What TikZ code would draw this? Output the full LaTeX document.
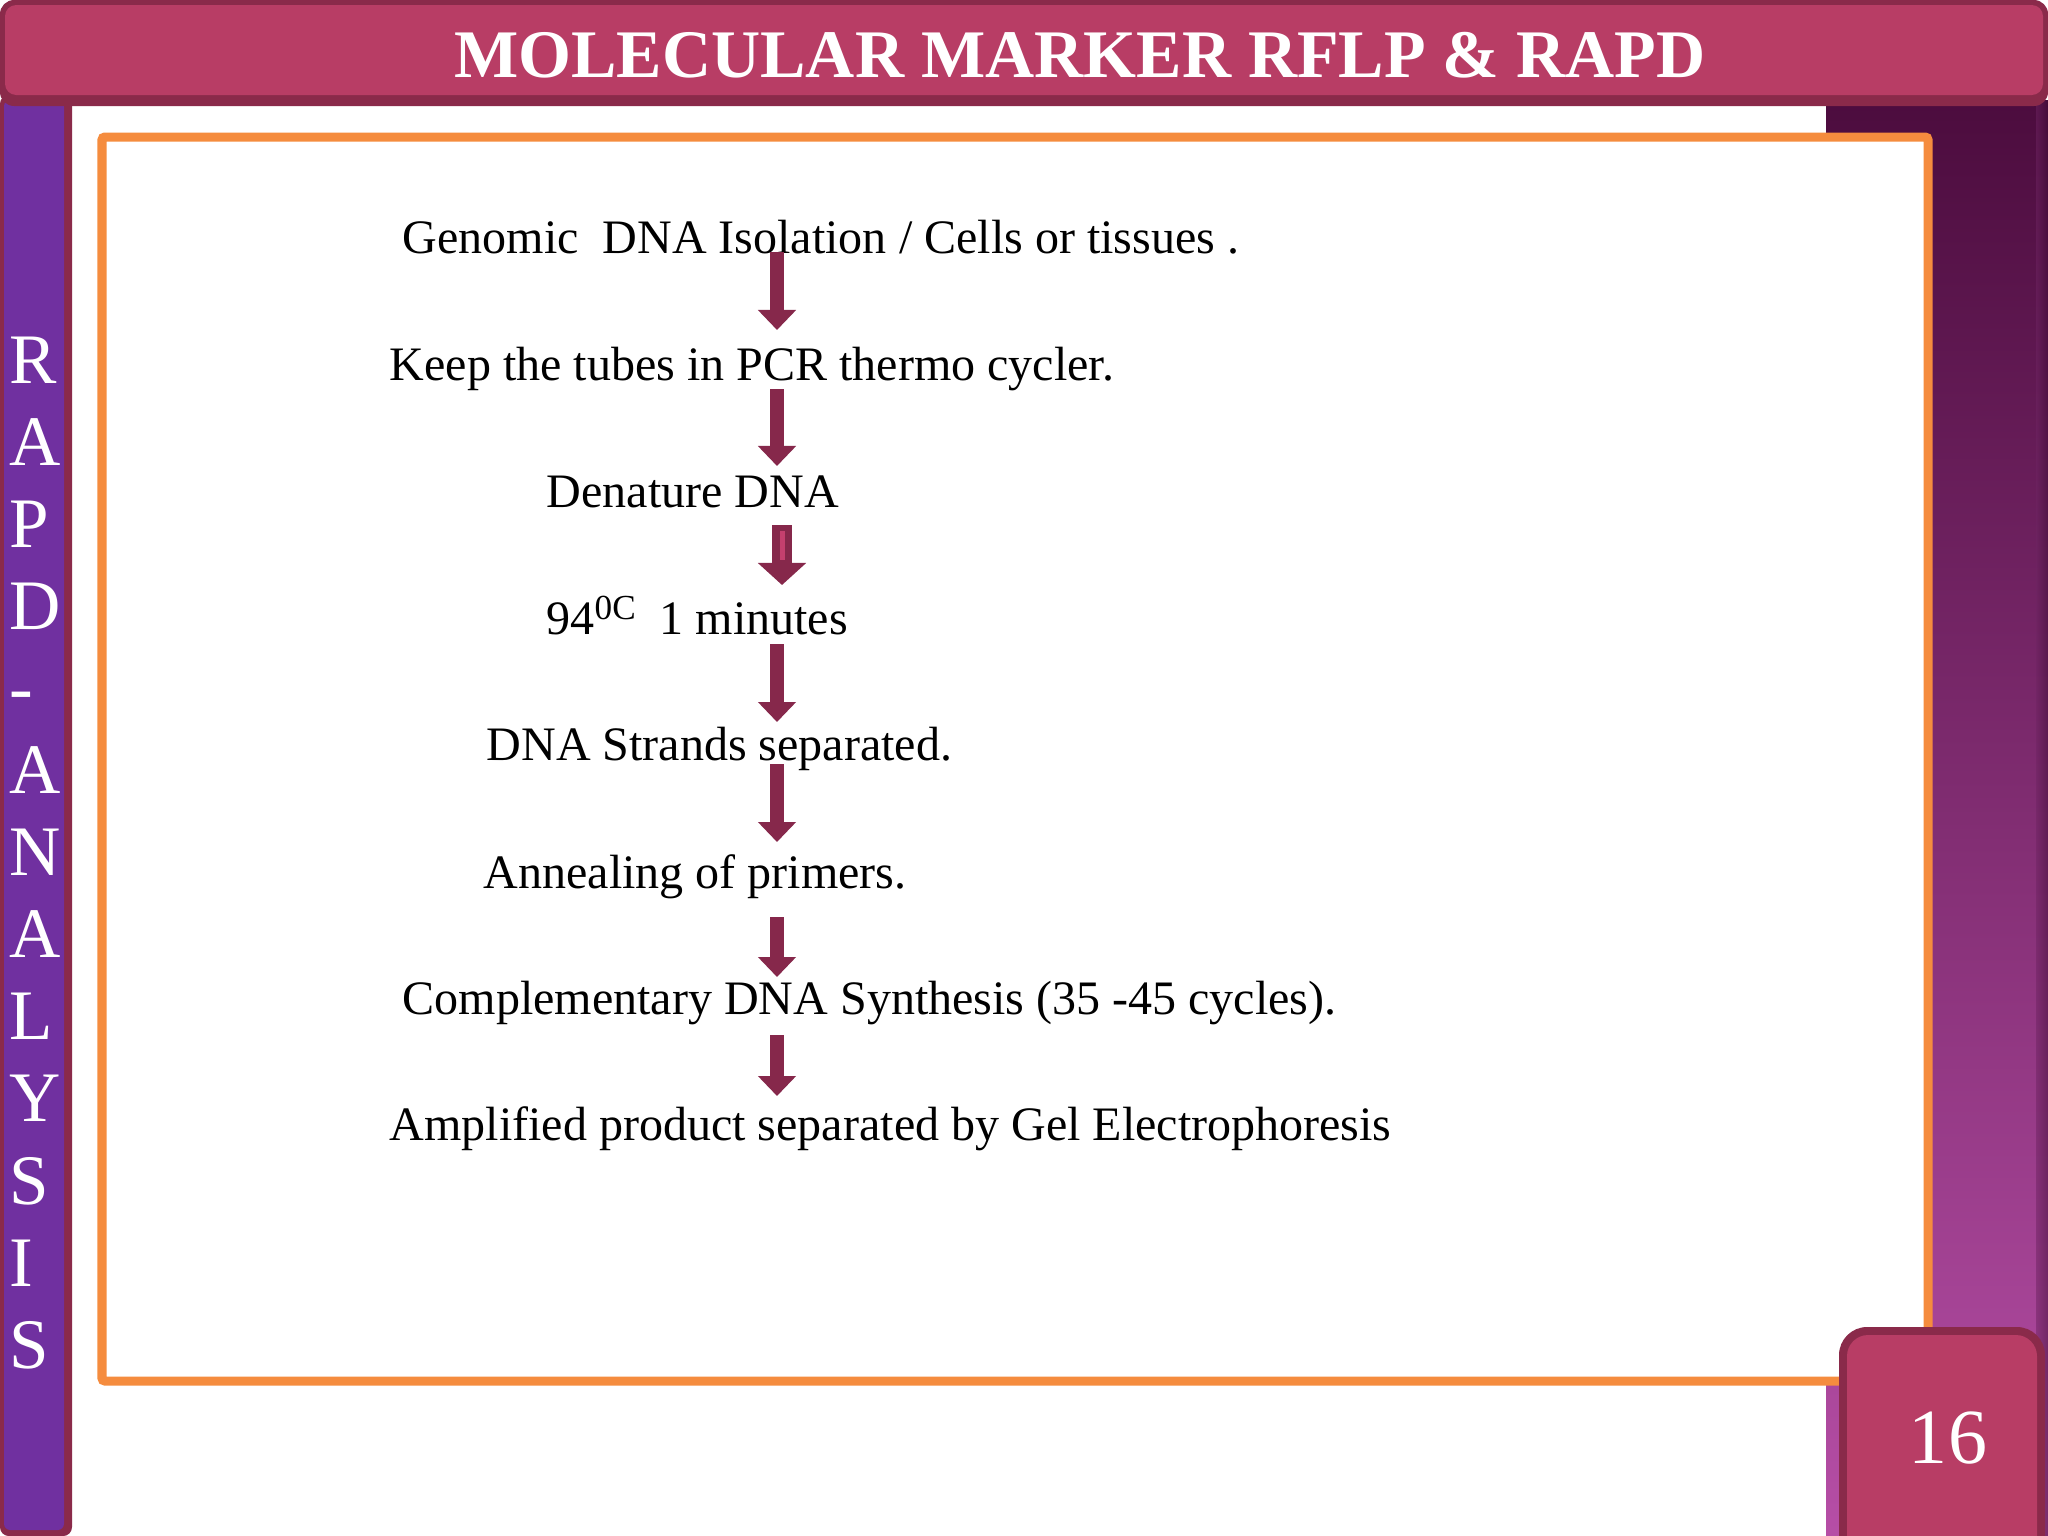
\documentclass[tikz,border=0pt]{standalone}
\usepackage{fontspec}
\setmainfont{Liberation Serif}
\usetikzlibrary{arrows.meta}
\definecolor{titlepink}{RGB}{184,61,101}
\definecolor{maroonb}{RGB}{138,42,74}
\definecolor{barpurple}{RGB}{112,48,160}
\definecolor{frameorange}{RGB}{245,140,62}
\definecolor{arrowred}{RGB}{134,40,75}
\definecolor{arrowhi}{RGB}{196,64,110}
\definecolor{panTop}{RGB}{76,12,62}
\definecolor{panMid}{RGB}{110,36,98}
\definecolor{panBot}{RGB}{182,78,166}
\definecolor{panEdge}{RGB}{62,12,52}
\begin{document}
\begin{tikzpicture}[x=0.01cm,y=-0.01cm,
  steptext/.style={anchor=base west, inner sep=0pt, font=\fontsize{13.66}{16}\selectfont, text=black},
  sideletter/.style={anchor=base west, inner sep=0pt, font=\fontsize{20.2}{24}\selectfont, text=white},
  flowarrow/.style={draw=arrowred, line width=0.14cm, -{Triangle[width=0.37cm,length=0.2cm]}},
  bigarrow/.style={draw=arrowred, line width=0.2cm, -{Triangle[width=0.47cm,length=0.22cm]}},
  hiline/.style={draw=arrowhi, line width=0.05cm}
]
\useasboundingbox (0,0) rectangle (2048,1536);
\fill[white] (0,0) rectangle (2048,1536);
% right purple panel
\shade[top color=panTop, middle color=panMid, bottom color=panBot] (1826,100) rectangle (2048,1536);
\shade[left color=panMid, right color=panEdge, opacity=0.5] (2036,100) rectangle (2048,1536);
% left bar
\fill[maroonb, rounded corners=2.5pt] (0,95) rectangle (72,1536);
\fill[barpurple, rounded corners=1.8pt] (4,100) rectangle (64,1530);
% title bar
\fill[maroonb, rounded corners=4pt] (0,0) rectangle (2048,106);
\fill[titlepink, rounded corners=3.2pt] (5,5) rectangle (2043,95);
% orange frame
\draw[frameorange, fill=white, line width=0.09cm, rounded corners=0.8pt] (102,137) rectangle (1928,1381);
% page box
\fill[maroonb, rounded corners=8pt] (1839,1327) rectangle (2045,1580);
\fill[titlepink, rounded corners=6pt] (1847,1335) rectangle (2037,1572);
% title
\node[anchor=base, inner sep=0pt, font=\bfseries\fontsize{19.35}{22}\selectfont, text=white] (title) at (1080,77) {MOLECULAR MARKER RFLP \& RAPD};
% page number
\node[anchor=base, inner sep=0pt, font=\fontsize{22.2}{26}\selectfont, text=white] (pagenum) at (1948,1463) {16};
% side letters
\foreach \l [count=\i from 0] in {R,A,P,D,-,A,N,A,L,Y,S,I,S}
  \node[sideletter] (side\i) at (9,383+82.1*\i) {\l};
% steps
\node[steptext] (t1) at (402,253) {Genomic\ \ DNA Isolation / Cells or tissues .};
\node[steptext] (t2) at (389,380) {Keep the tubes in PCR thermo cycler.};
\node[steptext] (t3) at (546,507) {Denature DNA};
\node[steptext] (t4) at (546,634) {94{\fontsize{10}{12}\selectfont\raisebox{0.9ex}{0C}}\ \ 1 minutes};
\node[steptext] (t5) at (486,760) {DNA Strands separated.};
\node[steptext] (t6) at (483,888) {Annealing of primers.};
\node[steptext] (t7) at (402,1014) {Complementary DNA Synthesis (35 -45 cycles).};
\node[steptext] (t8) at (389,1140) {Amplified product separated by Gel Electrophoresis};
% arrows
\coordinate (a1s) at (777,252); \coordinate (a1e) at (777,330);
\coordinate (a2s) at (777,389); \coordinate (a2e) at (777,466);
\coordinate (a3s) at (782,525); \coordinate (a3e) at (782,585);
\coordinate (a4s) at (777,644); \coordinate (a4e) at (777,722);
\coordinate (a5s) at (777,764); \coordinate (a5e) at (777,842);
\coordinate (a6s) at (777,917); \coordinate (a6e) at (777,977);
\coordinate (a7s) at (777,1035); \coordinate (a7e) at (777,1096);
\coordinate (h3s) at (782,531); \coordinate (h3e) at (782,560);
\draw[flowarrow] (a1s) -- (a1e);
\draw[flowarrow] (a2s) -- (a2e);
\draw[bigarrow] (a3s) -- (a3e);
\draw[hiline] (h3s) -- (h3e);
\draw[flowarrow] (a4s) -- (a4e);
\draw[flowarrow] (a5s) -- (a5e);
\draw[flowarrow] (a6s) -- (a6e);
\draw[flowarrow] (a7s) -- (a7e);
\end{tikzpicture}
\end{document}
